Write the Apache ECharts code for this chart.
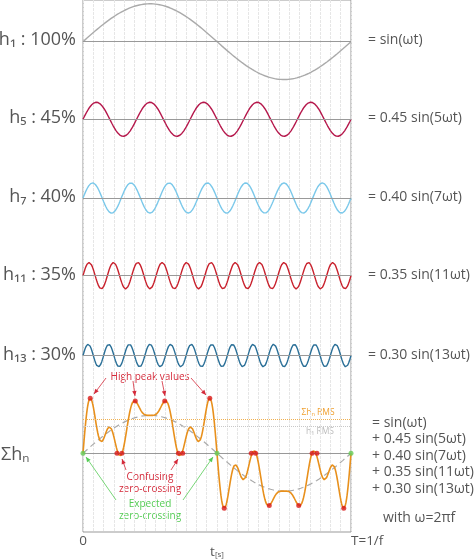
<!DOCTYPE html>
<html><head><meta charset="utf-8">
<script src="https://cdn.jsdelivr.net/npm/echarts@6/dist/echarts.min.js"></script>
<style>html,body{margin:0;background:#fff}#c{width:474px;height:559px}</style>
</head><body><div id="c"></div>
<script>
// harmonics
var orders = [1, 5, 7, 11, 13];
var amps = [1.00, 0.45, 0.40, 0.35, 0.30];
var colors = ['#aaaaaa', '#b5174b', '#7ac8ea', '#c8202c', '#2a6f97'];
var rowNames = ['h\u2081 : 100%', 'h\u2085 : 45%', 'h\u2087 : 40%', 'h\u2081\u2081 : 35%', 'h\u2081\u2083 : 30%'];
var rowFormulas = ['= sin(\u03c9t)', '= 0.45 sin(5\u03c9t)', '= 0.40 sin(7\u03c9t)', '= 0.35 sin(11\u03c9t)', '= 0.30 sin(13\u03c9t)'];
var sumFormulas = ['= sin(\u03c9t)', '+ 0.45 sin(5\u03c9t)', '+ 0.40 sin(7\u03c9t)', '+ 0.35 sin(11\u03c9t)', '+ 0.30 sin(13\u03c9t)'];
var rowOffsets = [0, -2.05, -4.13, -6.18, -8.29, -10.87];   // baseline of each row, in units
var peakTimes = [0.027, 0.195, 0.305, 0.473, 0.527, 0.695, 0.805, 0.973];
var confusingTimes = [0.127, 0.145, 0.356, 0.372, 0.628, 0.644, 0.855, 0.873];
var expectedTimes = [0, 0.5, 1];
var xTicks = ['0', 'T=1/f'];

var chart = echarts.init(document.getElementById('c'));
var N = 800;
function harm(k, t) { return amps[k] * Math.sin(2 * Math.PI * orders[k] * t); }
function total(t) { var s = 0; for (var k = 0; k < orders.length; k++) s += harm(k, t); return s; }

var series = [];
var sumOff = rowOffsets[5];
orders.forEach(function (o, k) {
  var d = [];
  for (var i = 0; i <= N; i++) { var t = i / N; d.push([t, rowOffsets[k] + harm(k, t)]); }
  series.push({ type: 'line', data: d, showSymbol: false, z: 3,
    lineStyle: { color: colors[k], width: 1.4 },
    markLine: { silent: true, symbol: 'none', label: { show: false },
      lineStyle: { color: '#999', type: 'solid', width: 1 }, data: [{ yAxis: rowOffsets[k] }] } });
});
var sumData = [], h1Data = [];
for (var i = 0; i <= N; i++) { var t = i / N; sumData.push([t, sumOff + total(t)]); h1Data.push([t, sumOff + harm(0, t)]); }
var rmsSum = Math.sqrt(amps.reduce(function (a, b) { return a + b * b; }, 0) / 2);
var rmsH1 = amps[0] / Math.SQRT2;
series.push({ type: 'line', data: h1Data, showSymbol: false, z: 2,
  lineStyle: { color: '#aaa', width: 1.2, type: [6, 4] } });
series.push({ type: 'line', data: sumData, showSymbol: false, z: 4,
  lineStyle: { color: '#e8901c', width: 1.6 },
  markLine: { silent: true, symbol: 'none', label: { show: false }, data: [
    { yAxis: sumOff, lineStyle: { color: '#999', type: 'solid', width: 1 } },
    { yAxis: sumOff + rmsSum, lineStyle: { color: '#f0b050', type: 'dotted', width: 1 } },
    { yAxis: sumOff + rmsH1, lineStyle: { color: '#c8c8c8', type: 'dotted', width: 1 } }] } });
series.push({ type: 'scatter', symbolSize: 5, z: 6, itemStyle: { color: '#d81818' },
  data: peakTimes.map(function (t) { return [t, sumOff + total(t)]; })
    .concat(confusingTimes.map(function (t) { return [t, sumOff]; })) });
series.push({ type: 'scatter', symbolSize: 5, z: 6, itemStyle: { color: '#66cc55' },
  data: expectedTimes.map(function (t) { return [t, sumOff]; }) });

var font = '"Open Sans", "Noto Sans", sans-serif';
var g = [];
function txt(x, y, s, size, color, align) {
  g.push({ type: 'text', x: x, y: y, style: { text: s, font: size + 'px ' + font, fill: color,
    textAlign: align || 'left', textVerticalAlign: 'middle' } });
}
function arrow(x1, y1, x2, y2, c) {
  var a = Math.atan2(y2 - y1, x2 - x1), L = 5, w = 2.2;
  g.push({ type: 'line', shape: { x1: x1, y1: y1, x2: x2, y2: y2 }, style: { stroke: c, lineWidth: 0.8 }, z: 10 });
  g.push({ type: 'polygon', z: 10, shape: { points: [[x2, y2],
    [x2 - L * Math.cos(a) + w * Math.sin(a), y2 - L * Math.sin(a) - w * Math.cos(a)],
    [x2 - L * Math.cos(a) - w * Math.sin(a), y2 - L * Math.sin(a) + w * Math.cos(a)]] }, style: { fill: c } });
}
var baseY = [40, 118, 197, 275, 355];
rowNames.forEach(function (n, k) { txt(76, baseY[k], n, 18, '#555', 'right'); txt(368, baseY[k], rowFormulas[k], 14, '#555'); });
txt(1, 455, '\u03a3h\u2099', 18, '#555');
sumFormulas.forEach(function (s, i) { txt(372, 423 + i * 16.5, s, 14, '#555'); });
txt(383, 518, 'with \u03c9=2\u03c0f', 14, '#555');
txt(83, 541, xTicks[0], 13.5, '#555', 'center');
txt(351, 541, xTicks[1], 13.5, '#555', 'left');
g.push({ type: 'text', x: 217, y: 552, style: { rich: { a: { font: '13.5px ' + font, fill: '#555' }, b: { font: '8px ' + font, fill: '#555', padding: [6, 0, 0, 0] } },
  text: '{a|t}{b|[s]}', textAlign: 'center', textVerticalAlign: 'middle' } });
var red = '#d42a3a', green = '#55cc55';
txt(150, 377, 'High peak values', 10, red, 'center');
txt(150, 477, 'Confusing', 10, red, 'center');
txt(150, 489, 'zero-crossing', 10, red, 'center');
txt(150, 504, 'Expected', 10, green, 'center');
txt(150, 516, 'zero-crossing', 10, green, 'center');
txt(318, 413, '\u03a3h\u2099 RMS', 8.5, '#f0a030', 'center');
txt(320, 432, 'h\u2081 RMS', 8.5, '#bbb', 'center');
arrow(106, 378, 94, 394, red); arrow(133, 381, 135, 396, red);
arrow(162, 381, 165, 396, red); arrow(191, 378, 206, 395, red);
arrow(126, 470, 122, 459, red); arrow(171, 470, 178, 459, red);
arrow(116, 500, 86, 457, green); arrow(183, 500, 213, 457, green);

chart.setOption({
  animation: false,
  grid: { left: 83, width: 268, top: -2, height: 534, show: true, borderColor: '#999', borderWidth: 1 },
  xAxis: { type: 'value', min: 0, max: 1, interval: 1 / 26,
    axisLine: { show: false }, axisTick: { show: false }, axisLabel: { show: false },
    splitLine: { lineStyle: { color: '#e6e6e6', width: 1, type: [3, 1] } } },
  yAxis: { type: 'value', min: -12.95, max: 1.1, show: false, splitLine: { show: false } },
  series: series,
  graphic: g
});
</script></body></html>
